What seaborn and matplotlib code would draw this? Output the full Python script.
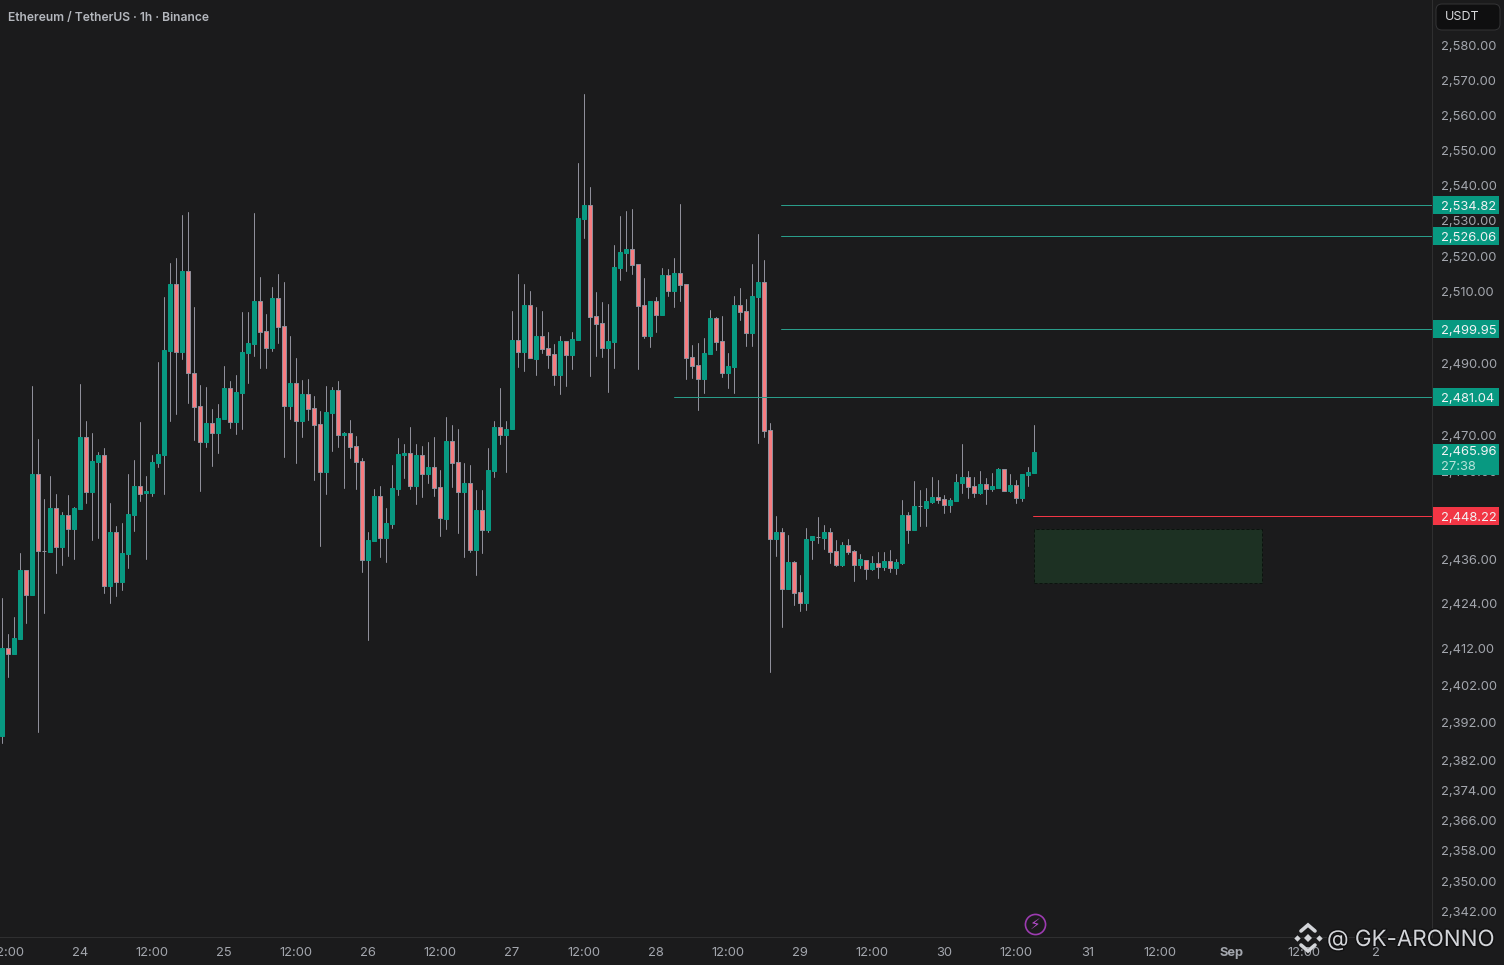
import pandas as pd
import matplotlib
matplotlib.use("Agg")
import matplotlib.pyplot as plt
import matplotlib.patheffects as pe
from matplotlib.lines import Line2D
from matplotlib.patches import FancyBboxPatch, Rectangle
from matplotlib.ticker import NullLocator
from matplotlib.transforms import ScaledTranslation
import seaborn as sns

opens = [
    2388.9, 2412.5, 2410.9, 2415.0, 2433.7, 2426.9, 2459.9, 2438.8, 2438.6, 2450.5,
    2439.9, 2448.6, 2444.8, 2450.2, 2470.1, 2454.9, 2463.2, 2465.1, 2429.3, 2444.0,
    2430.4, 2438.0, 2448.6, 2456.6, 2454.7, 2454.7, 2462.9, 2465.1, 2493.9, 2512.7,
    2493.6, 2516.3, 2487.8, 2478.6, 2468.7, 2473.9, 2471.2, 2475.0, 2483.6, 2474.2,
    2482.2, 2493.4, 2495.9, 2507.9, 2499.5, 2494.8, 2508.8, 2500.9, 2478.6, 2485.0,
    2474.5, 2481.9, 2478.1, 2473.7, 2460.5, 2476.7, 2483.1, 2470.6, 2471.2, 2467.6,
    2463.5, 2436.4, 2441.5, 2453.9, 2442.3, 2446.1, 2455.8, 2465.1, 2465.7, 2456.6,
    2465.1, 2459.9, 2461.8, 2456.3, 2447.5, 2469.0, 2463.2, 2454.9, 2457.4, 2439.1,
    2450.0, 2444.5, 2460.7, 2472.8, 2470.6, 2472.3, 2497.0, 2493.6, 2506.8, 2491.7,
    2498.1, 2494.8, 2493.1, 2487.2, 2496.7, 2492.8, 2497.0, 2531.0, 2535.0, 2503.7,
    2501.8, 2494.8, 2496.4, 2517.1, 2521.4, 2522.5, 2518.3, 2506.8, 2498.1, 2507.9,
    2504.0, 2515.2, 2510.7, 2515.7, 2512.7, 2492.3, 2490.0, 2486.1, 2493.1, 2503.2,
    2496.7, 2487.8, 2489.5, 2506.8, 2505.1, 2499.0, 2509.0, 2513.2, 2472.0, 2442.0,
    2444.0, 2428.5, 2435.8, 2427.7, 2424.7, 2441.8, 2442.6, 2442.3, 2444.0, 2438.8,
    2435.0, 2440.4, 2438.8, 2435.0, 2436.4, 2433.9, 2435.6, 2434.5, 2436.1, 2434.2,
    2435.6, 2448.6, 2444.5, 2451.1, 2450.5, 2452.2, 2453.6, 2453.0, 2451.3, 2452.4,
    2457.4, 2459.1, 2456.6, 2454.7, 2457.1, 2455.8, 2456.0, 2461.3, 2455.2, 2456.9,
    2453.3, 2459.6, 2460.2,
]
highs = [
    2426.1, 2416.3, 2420.9, 2438.3, 2433.7, 2484.2, 2469.5, 2453.0, 2459.3, 2454.4,
    2449.4, 2454.1, 2450.8, 2484.7, 2474.5, 2471.2, 2465.9, 2467.0, 2451.9, 2445.6,
    2446.4, 2459.9, 2463.7, 2474.2, 2459.3, 2465.1, 2490.9, 2509.0, 2518.5, 2519.9,
    2532.2, 2533.0, 2506.2, 2484.5, 2483.9, 2477.8, 2479.2, 2489.8, 2485.6, 2487.2,
    2504.8, 2504.8, 2532.7, 2514.6, 2504.3, 2511.8, 2515.5, 2513.2, 2498.1, 2492.0,
    2485.9, 2486.1, 2481.4, 2477.3, 2484.2, 2483.9, 2485.6, 2471.5, 2474.8, 2470.4,
    2464.3, 2444.0, 2455.8, 2456.6, 2450.5, 2462.4, 2469.8, 2468.1, 2472.8, 2468.1,
    2467.6, 2468.7, 2470.1, 2461.0, 2475.6, 2473.4, 2472.3, 2462.9, 2462.4, 2455.5,
    2455.5, 2467.0, 2474.5, 2483.6, 2474.5, 2505.1, 2515.5, 2512.7, 2510.7, 2506.2,
    2505.1, 2499.2, 2495.9, 2498.1, 2496.7, 2499.2, 2546.9, 2566.6, 2540.1, 2510.4,
    2507.6, 2507.1, 2523.7, 2531.9, 2533.3, 2533.9, 2518.3, 2514.3, 2507.9, 2509.0,
    2517.1, 2516.9, 2519.9, 2535.3, 2512.7, 2495.6, 2496.2, 2497.6, 2505.4, 2503.4,
    2503.7, 2493.4, 2509.3, 2511.5, 2508.5, 2518.3, 2526.8, 2519.4, 2473.9, 2448.3,
    2445.0, 2443.1, 2436.1, 2432.3, 2445.0, 2442.9, 2448.1, 2445.9, 2445.0, 2441.8,
    2441.2, 2442.1, 2439.1, 2438.0, 2436.4, 2437.5, 2438.6, 2438.6, 2439.1, 2436.7,
    2452.7, 2449.4, 2458.0, 2455.5, 2456.0, 2459.1, 2458.3, 2454.1, 2453.3, 2459.9,
    2468.1, 2460.7, 2459.1, 2460.7, 2458.8, 2460.2, 2461.5, 2461.3, 2459.9, 2458.3,
    2459.9, 2461.8, 2473.4,
]
lows = [
    2387.0, 2404.7, 2410.9, 2415.0, 2419.3, 2426.9, 2389.9, 2422.0, 2438.6, 2432.8,
    2435.0, 2437.5, 2436.7, 2450.2, 2451.9, 2441.8, 2442.3, 2427.4, 2424.7, 2426.6,
    2428.2, 2434.2, 2444.2, 2452.4, 2436.7, 2453.9, 2461.8, 2454.4, 2474.5, 2476.4,
    2491.7, 2479.5, 2469.2, 2455.2, 2467.3, 2462.1, 2465.7, 2475.0, 2472.6, 2470.9,
    2472.3, 2485.0, 2492.5, 2489.2, 2489.2, 2493.9, 2496.2, 2464.6, 2475.0, 2462.9,
    2470.1, 2474.8, 2458.3, 2440.1, 2454.4, 2466.2, 2467.3, 2456.0, 2464.3, 2455.8,
    2433.1, 2414.7, 2441.5, 2437.2, 2435.8, 2445.0, 2454.1, 2458.8, 2455.8, 2451.6,
    2453.6, 2457.4, 2453.9, 2442.9, 2444.8, 2456.3, 2443.7, 2437.2, 2438.6, 2432.3,
    2438.3, 2444.0, 2459.1, 2468.1, 2460.5, 2472.3, 2489.5, 2488.4, 2492.0, 2487.2,
    2493.4, 2489.2, 2484.5, 2481.9, 2484.2, 2488.9, 2497.0, 2525.6, 2486.9, 2492.5,
    2492.3, 2482.5, 2489.2, 2513.8, 2516.3, 2515.5, 2488.9, 2497.6, 2495.0, 2499.2,
    2504.0, 2509.3, 2506.2, 2507.9, 2486.1, 2486.4, 2477.5, 2482.2, 2493.1, 2494.2,
    2486.7, 2483.6, 2482.2, 2502.6, 2495.3, 2495.3, 2468.4, 2470.1, 2406.1, 2437.5,
    2418.2, 2428.5, 2424.1, 2422.5, 2422.8, 2436.7, 2441.0, 2439.4, 2435.6, 2434.7,
    2434.7, 2438.0, 2430.7, 2434.2, 2431.2, 2433.7, 2431.5, 2433.7, 2433.1, 2432.6,
    2435.3, 2441.0, 2444.5, 2445.6, 2445.6, 2451.9, 2451.9, 2449.1, 2449.4, 2452.4,
    2454.6, 2453.3, 2453.6, 2454.4, 2451.6, 2455.2, 2456.0, 2455.2, 2454.9, 2451.9,
    2452.4, 2456.6, 2460.2,
]
closes = [
    2412.5, 2410.9, 2415.2, 2433.7, 2426.9, 2459.9, 2438.8, 2438.8, 2450.5, 2439.9,
    2448.6, 2444.8, 2450.5, 2470.1, 2454.9, 2463.5, 2465.1, 2429.3, 2444.0, 2430.4,
    2438.3, 2448.9, 2456.6, 2454.4, 2455.1, 2463.2, 2465.4, 2494.2, 2512.7, 2493.6,
    2516.3, 2487.8, 2478.4, 2468.7, 2473.9, 2471.2, 2475.3, 2483.6, 2474.2, 2482.5,
    2493.6, 2496.2, 2507.9, 2499.2, 2494.8, 2508.8, 2500.6, 2478.6, 2485.0, 2474.5,
    2481.9, 2477.8, 2473.4, 2460.5, 2477.0, 2483.1, 2470.6, 2471.2, 2467.3, 2463.2,
    2436.4, 2441.8, 2453.9, 2442.3, 2446.4, 2456.0, 2465.4, 2465.7, 2456.6, 2465.1,
    2459.9, 2461.8, 2456.0, 2447.8, 2469.0, 2462.9, 2454.9, 2457.4, 2439.1, 2450.0,
    2444.5, 2461.0, 2472.8, 2470.6, 2472.3, 2497.0, 2493.6, 2506.8, 2492.0, 2498.1,
    2494.5, 2492.8, 2487.2, 2496.7, 2492.8, 2497.3, 2531.3, 2535.0, 2503.4, 2501.5,
    2494.8, 2496.7, 2517.4, 2521.6, 2522.5, 2518.0, 2506.5, 2498.1, 2507.9, 2504.0,
    2515.2, 2510.7, 2515.7, 2512.4, 2492.0, 2489.8, 2486.1, 2493.4, 2503.2, 2496.4,
    2487.8, 2489.8, 2506.8, 2504.8, 2499.0, 2509.3, 2513.2, 2471.7, 2442.0, 2444.0,
    2428.5, 2435.8, 2427.4, 2424.7, 2442.0, 2442.9, 2442.6, 2444.0, 2438.6, 2435.0,
    2440.4, 2438.6, 2435.0, 2436.7, 2433.9, 2435.6, 2434.5, 2436.1, 2434.2, 2435.8,
    2448.6, 2444.5, 2451.1, 2451.1, 2452.4, 2453.6, 2452.7, 2451.3, 2452.7, 2457.7,
    2459.1, 2456.3, 2454.7, 2457.1, 2455.8, 2456.6, 2461.3, 2455.2, 2456.9, 2453.3,
    2459.9, 2460.5, 2465.96,
]

price_ticks = [2580, 2570, 2560, 2550, 2540, 2530, 2520, 2510, 2490, 2470, 2460,
               2436, 2424, 2412, 2402, 2392, 2382, 2374, 2366, 2358, 2350, 2342]
time_ticks = [1, 13, 25, 37, 49, 61, 73, 85, 97, 109, 121, 133, 145, 157, 169, 181, 193, 205, 217, 229]
time_labels = ["12:00", "24", "12:00", "25", "12:00", "26", "12:00", "27", "12:00", "28", "12:00",
               "29", "12:00", "30", "12:00", "31", "12:00", "Sep", "12:00", "2"]

level_prices = [2534.82, 2526.06, 2499.95, 2481.04]
level_starts = [129.8, 129.8, 129.8, 112.0]
stop_price = 2448.22
zone_top, zone_bottom = 2444.8, 2430.1
zone_start, zone_end = 172.0, 210.0

BG = "#1b1b1c"
GREEN = "#089981"
RED = "#f23645"
PINK = "#f77c80"
WICK = "#8f8f9a"
TEXT = "#a3a6ad"
BORDER = "#2f2f30"
FONT = ["Inter", "DejaVu Sans"]

W, H = 1504, 965
PX = 0.72  # one pixel in points at dpi 100

sns.set_theme(style="dark", rc={"figure.facecolor": BG, "axes.facecolor": BG, "axes.grid": False})
plt.rcParams["font.family"] = FONT

df = pd.DataFrame({"hour": range(len(closes)), "open": opens, "high": highs, "low": lows, "close": closes})
wicks = df.melt(id_vars="hour", value_vars=["low", "high"], value_name="price")

fig = plt.figure(figsize=(W / 100, H / 100), dpi=100)
ax = fig.add_axes([0, 1 - 937 / H, 1432 / W, 937 / H])
ax.set_yscale("log")

sns.lineplot(data=wicks, x="hour", y="price", units="hour", estimator=None, color=WICK,
             linewidth=PX, legend=False, ax=ax, zorder=2)

up = df[df["close"] > df["open"]]
down = df[df["close"] <= df["open"]]
ax.bar(up["hour"], up["close"] - up["open"], bottom=up["open"], width=4 / 6, color=GREEN,
       edgecolor=GREEN, linewidth=PX, zorder=3)
ax.bar(down["hour"], (down["open"] - down["close"]).clip(lower=0.01), bottom=down["close"], width=4 / 6,
       color=PINK, edgecolor=WICK, linewidth=PX, zorder=3)

ax.set_xlim(-1 / 3, 238 + 1 / 3)
ax.set_ylim(2335.8, 2593.7)

for price, start in zip(level_prices, level_starts):
    ax.plot([start, 238.4], [price, price], color="#2a9d8a", linewidth=PX, zorder=4)
ax.plot([171.8, 238.4], [stop_price, stop_price], color=RED, linewidth=PX, zorder=4)

ax.add_patch(Rectangle((zone_start, zone_bottom), zone_end - zone_start, zone_top - zone_bottom,
                       facecolor="#1d3123", edgecolor="#0b130e", linewidth=PX, linestyle=(0, (3, 2)), zorder=1))

ax.yaxis.tick_right()
ax.set_yticks(price_ticks)
ax.set_yticklabels([f"{p:,.2f}" for p in price_ticks], fontsize=9.3, color=TEXT)
ax.yaxis.set_minor_locator(NullLocator())
ax.set_xticks(time_ticks)
ax.set_xticklabels(time_labels, fontsize=9.3, color=TEXT)
ax.tick_params(axis="y", length=0, pad=6.5)
ax.tick_params(axis="x", length=0, pad=7.5)
# the price scale text sits a little above its price
lift = ScaledTranslation(0, 1.5 / 100, fig.dpi_scale_trans)
for lab in ax.get_yticklabels():
    lab.set_transform(lab.get_transform() + lift)
for lab in ax.get_xticklabels():
    if lab.get_text() == "Sep":
        lab.set_fontweight("bold")
ax.set_xlabel("")
ax.set_ylabel("")
for side in ["top", "left"]:
    ax.spines[side].set_visible(False)
for side in ["right", "bottom"]:
    ax.spines[side].set_color(BORDER)
    ax.spines[side].set_linewidth(PX)


def fx(x):
    return x / W


def fy(y):
    return 1 - y / H


def price_box(price, color, label, sub=None):
    # tag on the price scale, centred on the price
    ypix = ax.transData.transform((0, price))[1]
    top = H - ypix - 9 if sub is None else H - ypix - 8
    height = 18 if sub is None else 31
    fig.add_artist(Rectangle((fx(1433), fy(top + height)), 66 / W, height / H, transform=fig.transFigure,
                             facecolor=color, edgecolor="none", zorder=6))
    text_y = top + 10.2 if sub is None else top + 8.5
    fig.text(fx(1441), fy(text_y), label, color="#f2f3f5", fontsize=9.3, va="center", ha="left", zorder=7)
    if sub:
        fig.text(fx(1441), fy(top + 23.5), sub, color="#b7e3da", fontsize=9.3, va="center", ha="left", zorder=7)


for price in level_prices:
    price_box(price, GREEN, f"{price:,.2f}")
price_box(closes[-1], GREEN, f"{closes[-1]:,.2f}", "27:38")
price_box(stop_price, RED, f"{stop_price:,.2f}")

fig.text(fx(8), fy(17.5), "Ethereum / TetherUS · 1h · Binance", color="#b4b7bd", fontsize=8.7,
         fontweight="semibold", va="center", ha="left")

fig.add_artist(FancyBboxPatch((fx(1436), fy(30)), 64 / W, 26 / H, transform=fig.transFigure,
                              boxstyle="round,pad=0,rounding_size=0.004", mutation_aspect=W / H,
                              facecolor="#0f0f10", edgecolor="#333335", linewidth=PX, zorder=6))
fig.text(fx(1445), fy(17.5), "USDT", color="#d8d9dc", fontsize=9, va="center", ha="left", zorder=7)

# lightning mark above the time scale
fig.add_artist(Line2D([fx(1035)], [fy(924)], marker="o", markersize=14.5, markerfacecolor="none",
                      markeredgecolor="#9c3bb0", markeredgewidth=1.2, transform=fig.transFigure))
fig.text(fx(1035), fy(924), "⚡", color="#b04ac6", fontsize=11, ha="center", va="center", family="DejaVu Sans")

# watermark: logo from small diamonds, then the handle
wm = "#d3d5d9"
shadow = [pe.withStroke(linewidth=2, foreground="#111112")]
for dx, dy, size in [(1308, 938, 6), (1297, 938, 4.5), (1319, 938, 4.5)]:
    fig.add_artist(Line2D([fx(dx)], [fy(dy)], marker="D", markersize=size * 0.72, color=wm,
                          markeredgewidth=0, transform=fig.transFigure, zorder=8))
for sign in [-1, 1]:
    fig.add_artist(Line2D([fx(1301), fx(1308), fx(1315)], [fy(938 + sign * 7), fy(938 + sign * 13), fy(938 + sign * 7)],
                          color=wm, linewidth=2.6, solid_joinstyle="miter", transform=fig.transFigure, zorder=8))
fig.text(fx(1327), fy(940), "@ GK-ARONNO", color=wm, fontsize=16.1, va="center", ha="left",
         path_effects=shadow, zorder=8)

fig.savefig("out.png", dpi=100, facecolor=BG)
plt.close(fig)
